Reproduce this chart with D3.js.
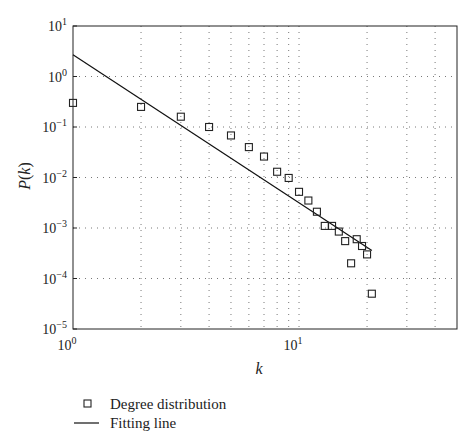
<!DOCTYPE html><html><head><meta charset="utf-8"><script src="https://cdn.jsdelivr.net/npm/d3@7"></script>
<style>body{margin:0;background:#fff}text{font-family:"Liberation Serif",serif;fill:#222}</style></head><body><svg id="c" width="474" height="448"></svg>
<script>
const degrees=[1,2,3,4,5,6,7,8,9,10,11,12,13,14,15,16,17,18,19,20,21];
const probs=[0.3,0.25,0.16,0.1,0.068,0.04,0.026,0.013,0.0098,0.0052,0.0035,0.0021,0.0011,0.0011,0.00085,0.00055,0.0002,0.0006,0.00044,0.0003,0.00005];
const fitK=[1,21];
const fitP=[2.7,0.00036];
const xTicks=[1,10];
const yTicks=[1e-5,1e-4,1e-3,1e-2,1e-1,1,10];
const xGrid=[2,3,4,5,6,7,8,9,10,20,30,40];
const svg=d3.select("#c");
const L=73,R=457,T=26,B=329;
const x=d3.scaleLog().domain([1,50]).range([L,R]);
const y=d3.scaleLog().domain([1e-5,10]).range([B,T]);
const g=svg.append("g");
g.selectAll(".vg").data(xGrid).join("line").attr("x1",d=>x(d)).attr("x2",d=>x(d)).attr("y1",T).attr("y2",B).attr("stroke","#555").attr("stroke-width",0.8).attr("stroke-dasharray","1,5");
g.selectAll(".hg").data(yTicks.slice(1,-1)).join("line").attr("x1",L).attr("x2",R).attr("y1",d=>y(d)).attr("y2",d=>y(d)).attr("stroke","#555").attr("stroke-width",0.8).attr("stroke-dasharray","1,5");
svg.append("rect").attr("x",L).attr("y",T).attr("width",R-L).attr("height",B-T).attr("fill","none").attr("stroke","#222").attr("stroke-width",1);
// ticks
svg.selectAll(".yt").data(yTicks).join("g").each(function(d){
  const e=Math.round(Math.log10(d));const t=d3.select(this).append("text").attr("x",L-6).attr("y",y(d)+5).attr("text-anchor","end").attr("font-size",14);
  t.append("tspan").text("10");t.append("tspan").attr("dy",-6).attr("font-size",10).text(e<0?"−"+(-e):e);
});
svg.selectAll(".xt").data(xTicks).join("g").each(function(d){
  const e=Math.round(Math.log10(d));const t=d3.select(this).append("text").attr("x",x(d)-6).attr("y",B+21).attr("text-anchor","middle").attr("font-size",14);
  t.append("tspan").text("10");t.append("tspan").attr("dy",-6).attr("font-size",10).text(e);
});
svg.selectAll(".ytk").data(yTicks).join("line").attr("x1",L).attr("x2",L+4).attr("y1",d=>y(d)).attr("y2",d=>y(d)).attr("stroke","#222");
svg.append("text").attr("x",259).attr("y",374).attr("text-anchor","middle").attr("font-size",16).attr("font-style","italic").text("k");
svg.append("text").attr("transform","translate(30,176) rotate(-90)").attr("text-anchor","middle").attr("font-size",16).html('<tspan font-style="italic">P</tspan>(<tspan font-style="italic">k</tspan>)');
// fit line
svg.append("path").datum(fitK.map((k,i)=>[k,fitP[i]])).attr("d",d3.line().x(d=>x(d[0])).y(d=>y(d[1]))).attr("stroke","#111").attr("fill","none").attr("stroke-width",1.2);
// points
svg.selectAll(".pt").data(degrees).join("rect").attr("x",(d)=>x(d)-3.5).attr("y",(d,i)=>y(probs[i])-3.5).attr("width",7).attr("height",7).attr("fill","none").attr("stroke","#222").attr("stroke-width",1.1);
// legend
svg.append("rect").attr("x",84).attr("y",400).attr("width",7).attr("height",7).attr("fill","none").attr("stroke","#222").attr("stroke-width",1.1);
svg.append("text").attr("x",110).attr("y",409).attr("font-size",15).text("Degree distribution");
svg.append("line").attr("x1",74).attr("x2",99).attr("y1",423).attr("y2",423).attr("stroke","#111").attr("stroke-width",1.2);
svg.append("text").attr("x",110).attr("y",428).attr("font-size",15).text("Fitting line");
</script></body></html>
